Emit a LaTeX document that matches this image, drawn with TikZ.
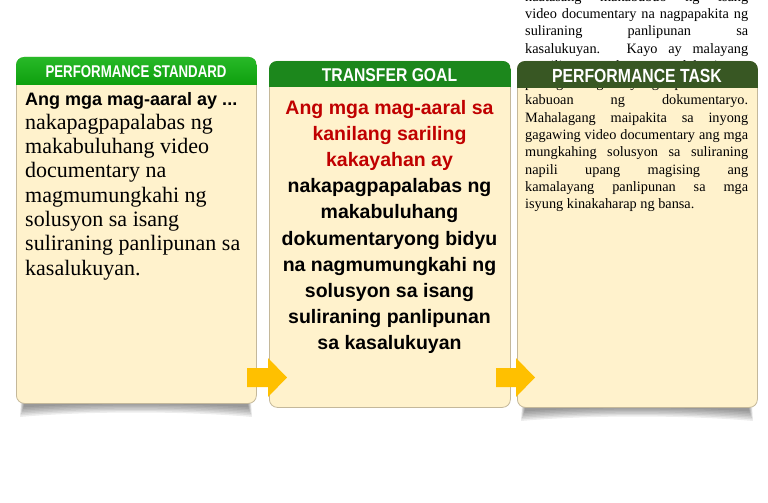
\documentclass[tikz,border=0pt]{standalone}
\usepackage{fontspec}
\usepackage{graphicx}
\setmainfont{Liberation Serif}
\newfontfamily\arialf{Liberation Sans}
\definecolor{cream}{HTML}{FFF2CC}
\definecolor{edge}{HTML}{C4B89A}
\definecolor{hdrAtop}{RGB}{40,185,40}
\definecolor{hdrAbot}{RGB}{14,160,14}
\definecolor{hdrB}{RGB}{28,135,28}
\definecolor{hdrC}{RGB}{56,87,35}
\definecolor{redtxt}{HTML}{C00000}
\definecolor{arrowy}{HTML}{FFC000}
\newcommand\jl[1]{\makebox[\linewidth][s]{#1}}
\newcommand\cardshadow[3]{%
  \foreach \k in {0,...,6}{%
    \fill[black, opacity=0.07] (#1+5+\k*0.6,-#3+4) -- (#1+4+\k*0.6,-#3-14+\k*1.6)
      .. controls (#1+70,-#3-8+\k*1.3) and (#2-70,-#3-8+\k*1.3) ..
      (#2-4-\k*0.6,-#3-14+\k*1.6) -- (#2-5-\k*0.6,-#3+4) -- cycle;}}
\tikzset{
  card/.style={draw=edge, line width=0.8pt, fill=cream, rounded corners=8pt,
    inner sep=0pt, anchor=north west},
  hdrtext/.style={text=white, font=\arialf\bfseries, inner sep=0pt, anchor=center},
  bodytext/.style={inner sep=0pt},
  blockarrow/.style={fill=arrowy}
}
\begin{document}
\begin{tikzpicture}[x=1pt,y=1pt]
\useasboundingbox (0,0) rectangle (768,-503);
\clip (0,0) rectangle (768,-503);

% shadows
\cardshadow{16}{256}{403}
\cardshadow{517}{757}{407}

% cards
\node[card, minimum width=240pt, minimum height=346pt] (ps) at (16,-57) {};
\node[card, minimum width=241pt, minimum height=346pt] (tg) at (269,-61) {};
\node[card, minimum width=240pt, minimum height=346pt] (pt) at (517,-61) {};

% header 1
\begin{scope}
  \clip[rounded corners=8pt] (ps.north west) rectangle (ps.south east);
  \shade[top color=hdrAtop, bottom color=hdrAbot] (ps.north west) rectangle ([yshift=-27pt]ps.north east);
\end{scope}
\node[hdrtext] (psh) at (136,-71.5) {\fontsize{17}{17}\selectfont\scalebox{0.78}[1]{PERFORMANCE STANDARD}};

% header 2
\begin{scope}
  \clip[rounded corners=8pt] (tg.north west) rectangle (tg.south east);
  \fill[hdrB] (tg.north west) rectangle ([yshift=-26pt]tg.north east);
\end{scope}
\node[hdrtext] (tgh) at (389.5,-75) {\fontsize{18.5}{18.5}\selectfont\scalebox{0.85}[1]{TRANSFER GOAL}};

% body 1
\node[bodytext, anchor=base west] (psb) at (25,-105) {\parbox[t]{228pt}{\raggedright
  \fontsize{22}{24.3}\selectfont
  {\arialf\bfseries\fontsize{18}{24.3}\selectfont Ang mga mag-aaral ay ...}\\
  nakapagpapalabas ng\\
  makabuluhang video\\
  documentary na\\
  magmumungkahi ng\\
  solusyon sa isang\\
  suliraning panlipunan sa\\
  kasalukuyan.}};

% body 2
\node[bodytext, anchor=base] (tgb) at (389.5,-114.5) {\parbox[t]{236pt}{\centering
  \arialf\bfseries\fontsize{19.5}{26.1}\selectfont\leavevmode
  \textcolor{redtxt}{Ang mga mag-aaral sa}\\
  \textcolor{redtxt}{kanilang sariling}\\
  \textcolor{redtxt}{kakayahan ay}\\
  nakapagpapalabas ng\\
  makabuluhang\\
  dokumentaryong bidyu\\
  na nagmumungkahi ng\\
  solusyon sa isang\\
  suliraning panlipunan\\
  sa kasalukuyan}};

% body 3 (overflowing text, partly under header)
\node[bodytext, anchor=base west] (ptb) at (525,-1.2) {\parbox[t]{223pt}{
  \fontsize{14.3}{17.3}\selectfont
  \jl{naatasang makabubuo ng isang}\\
  \jl{video documentary na nagpapakita ng}\\
  \jl{suliraning panlipunan sa}\\
  \jl{kasalukuyan. Kayo ay malayang}\\
  \jl{pumili ng paksang tatalakayin at}\\
  \jl{pamagat ng inyong pelikula sa}\\
  \jl{kabuoan ng dokumentaryo.}\\
  \jl{Mahalagang maipakita sa inyong}\\
  \jl{gagawing video documentary ang mga}\\
  \jl{mungkahing solusyon sa suliraning}\\
  \jl{napili upang magising ang}\\
  \jl{kamalayang panlipunan sa mga}\\
  isyung kinakaharap ng bansa.}};

% header 3
\begin{scope}
  \clip[rounded corners=8pt] (pt.north west) rectangle (pt.south east);
  \fill[hdrC] (pt.north west) rectangle ([yshift=-27pt]pt.north east);
\end{scope}
\node[hdrtext] (pth) at (637,-76) {\fontsize{19}{19}\selectfont\scalebox{0.83}[1]{PERFORMANCE TASK}};

% arrows
\fill[blockarrow] (247,-368) -- (268,-368) -- (268,-358) -- (287,-377.5) -- (268,-397) -- (268,-387) -- (247,-387) -- cycle;
\fill[blockarrow] (496,-368) -- (516,-368) -- (516,-358) -- (535,-377.5) -- (516,-397) -- (516,-387) -- (496,-387) -- cycle;
\end{tikzpicture}
\end{document}
